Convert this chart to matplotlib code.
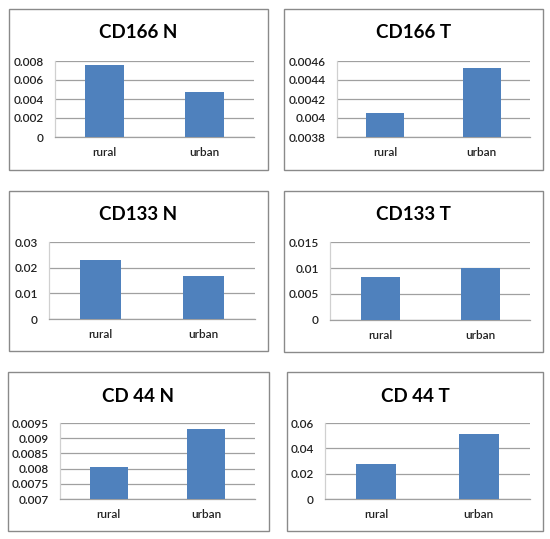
import matplotlib
matplotlib.use("Agg")
import matplotlib.pyplot as plt
from matplotlib.patches import Rectangle
from matplotlib.ticker import FuncFormatter

plt.rcParams['font.family'] = ['Lato', 'DejaVu Sans']

W, H = 550, 539

categories = ['rural', 'urban']
titles = ['CD166 N', 'CD166 T', 'CD133 N', 'CD133 T', 'CD 44 N', 'CD 44 T']
cd166_n = [0.00754, 0.00474]
cd166_t = [0.00405, 0.00453]
cd133_n = [0.0229, 0.0169]
cd133_t = [0.0082, 0.0100]
cd44_n = [0.00805, 0.0093]
cd44_t = [0.0278, 0.0513]
values = [cd166_n, cd166_t, cd133_n, cd133_t, cd44_n, cd44_t]
ylims = [(0, 0.008), (0.0038, 0.0046), (0, 0.03), (0, 0.015), (0.007, 0.0095), (0, 0.06)]
ysteps = [0.002, 0.0002, 0.01, 0.005, 0.0005, 0.02]

# pixel boxes (x0, y0, x1, y1) for the panel frame and the plot area
frames = [(9, 9, 268, 170), (284, 9, 543, 170),
          (9, 191, 268, 351), (284, 191, 543, 352),
          (8, 372, 269, 531), (287, 372, 543, 531)]
areas = [(55, 61, 254, 137), (337, 61, 530, 137),
         (49, 242, 255, 319), (330, 242, 530, 320),
         (60, 423, 255, 499), (325, 423, 530, 499)]

bar_color = '#4F81BD'
grid_color = '#a0a0a0'


def fmt(v, pos):
    s = f"{v:.4f}".rstrip('0').rstrip('.')
    return s


fig = plt.figure(figsize=(W / 100, H / 100), dpi=100)
fig.patch.set_facecolor('white')

for i in range(6):
    fx0, fy0, fx1, fy1 = frames[i]
    fig.patches.append(Rectangle((fx0 / W, 1 - fy1 / H), (fx1 - fx0) / W, (fy1 - fy0) / H,
                                 transform=fig.transFigure, fill=False,
                                 edgecolor='#8a8a8a', linewidth=1.0))
    fig.text((fx0 + fx1) / 2 / W, 1 - (fy0 + 24) / H, titles[i],
             ha='center', va='center', fontsize=13.5, fontweight='bold')

    ax0, ay0, ax1, ay1 = areas[i]
    ax = fig.add_axes([ax0 / W, 1 - ay1 / H, (ax1 - ax0) / W, (ay1 - ay0) / H])
    lo, hi = ylims[i]
    ax.bar(range(len(categories)), values[i], width=0.39, color=bar_color,
           bottom=0, zorder=3)
    ax.set_xlim(-0.5, 1.5)
    ax.set_ylim(lo, hi)
    n = int(round((hi - lo) / ysteps[i]))
    ax.set_yticks([lo + k * ysteps[i] for k in range(n + 1)])
    ax.yaxis.set_major_formatter(FuncFormatter(fmt))
    ax.set_xticks(range(len(categories)))
    ax.set_xticklabels(categories)
    ax.yaxis.grid(True, color=grid_color, linewidth=0.9, zorder=0)
    ax.tick_params(axis='both', length=0, labelsize=8.5, labelcolor='#222222')
    ax.tick_params(axis='x', pad=7)
    ax.tick_params(axis='y', pad=8)
    for lab in ax.get_xticklabels() + ax.get_yticklabels():
        lab.set_fontweight('semibold')
    for side in ['top', 'right']:
        ax.spines[side].set_visible(False)
    ax.spines['left'].set_color('#d0d0d0')
    ax.spines['bottom'].set_color(grid_color)
    ax.spines['left'].set_linewidth(0.9)
    ax.spines['bottom'].set_linewidth(0.9)

fig.savefig('out.png', dpi=100)
